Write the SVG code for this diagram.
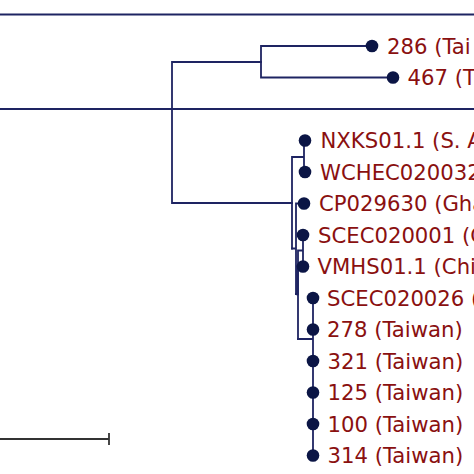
<svg xmlns="http://www.w3.org/2000/svg" width="474" height="474" viewBox="0 0 474 474">
<style>
.br{stroke:#1e2462;stroke-width:1.8;fill:none;stroke-linecap:square}
.tip{fill:#0b1545}
.lb{font-family:"DejaVu Sans",Verdana,sans-serif;font-size:21.2px;fill:#8a1010}
.sc{stroke:#333;stroke-width:1.8;fill:none}
</style>
<rect width="474" height="474" fill="#ffffff"/>
<g id="connectors">
<path class="br" d="M0 14.5H474"/>
<path class="br" d="M0 109H474"/>
<path class="br" d="M172 62V203M172 62H261M172 203H292"/>
<path class="br" d="M261 46V77.5M261 46H372M261 77.5H393"/>
<path class="br" d="M292 157V248.5M292 157H304M304 140.5V172"/>
<path class="br" d="M292 248.5H296M296 203.5V294M296 203.5H304"/>
<path class="br" d="M296 294H298M298 250.5V339M298 250.5H303M303 235V266.5"/>
<path class="br" d="M297.5 266V294" style="stroke-width:2.6"/>
<path class="br" d="M298 339H313M313 298V455.5"/>
</g>
<g id="scalebar">
<path class="sc" d="M0 439H109M109 433V445"/>
</g>
<g id="n286"><circle class="tip" cx="372" cy="46" r="6.3"/><text class="lb" x="387" y="53.5">286 (Tai</text></g>
<g id="n467"><circle class="tip" cx="393" cy="77.5" r="6.3"/><text class="lb" x="407.5" y="85">467 (T</text></g>
<g id="nNXKS"><circle class="tip" cx="305" cy="140.5" r="6.3"/><text class="lb" x="320.5" y="148">NXKS01.1 (S. A</text></g>
<g id="nWCHEC"><circle class="tip" cx="305" cy="172" r="6.3"/><text class="lb" x="320" y="179.5">WCHEC020032</text></g>
<g id="nCP"><circle class="tip" cx="304" cy="203.5" r="6.3"/><text class="lb" x="319" y="211">CP029630 (Gha</text></g>
<g id="nSCEC1"><circle class="tip" cx="303" cy="235" r="6.3"/><text class="lb" x="318" y="242.5">SCEC020001 (C</text></g>
<g id="nVMHS"><circle class="tip" cx="303" cy="266.5" r="6.3"/><text class="lb" x="317.5" y="274">VMHS01.1 (Chi</text></g>
<g id="nSCEC26"><circle class="tip" cx="313" cy="298" r="6.3"/><text class="lb" x="327" y="305.5">SCEC020026 (</text></g>
<g id="n278"><circle class="tip" cx="313" cy="329.5" r="6.3"/><text class="lb" x="327" y="337">278 (Taiwan)</text></g>
<g id="n321"><circle class="tip" cx="313" cy="361" r="6.3"/><text class="lb" x="327.5" y="368.5">321 (Taiwan)</text></g>
<g id="n125"><circle class="tip" cx="313" cy="392.5" r="6.3"/><text class="lb" x="327.5" y="400">125 (Taiwan)</text></g>
<g id="n100"><circle class="tip" cx="313" cy="424" r="6.3"/><text class="lb" x="327.5" y="431.5">100 (Taiwan)</text></g>
<g id="n314"><circle class="tip" cx="313" cy="455.5" r="6.3"/><text class="lb" x="327.5" y="463">314 (Taiwan)</text></g>
</svg>
